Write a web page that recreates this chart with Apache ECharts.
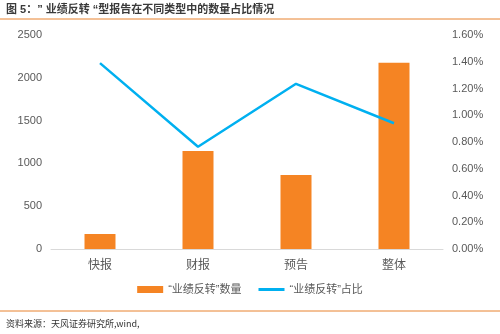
<!DOCTYPE html>
<html>
<head>
<meta charset="utf-8">
<script src="https://cdn.jsdelivr.net/npm/echarts@6/dist/echarts.min.js"></script>
<style>
html,body{margin:0;padding:0;background:#fff;}
#chart{width:500px;height:334px;}
</style>
</head>
<body>
<div id="chart"></div>
<script>
const categories = ['快报', '财报', '预告', '整体'];
const countValues = [175, 1145, 865, 2175];
const shareValues = [1.39, 0.765, 1.235, 0.94];
const leftTicks = [0, 500, 1000, 1500, 2000, 2500];
const rightTicks = [0, 0.2, 0.4, 0.6, 0.8, 1.0, 1.2, 1.4, 1.6];
const titleText = '图 5：” 业绩反转 “型报告在不同类型中的数量占比情况';
const sourceText = '资料来源：天风证券研究所,wind,';
const countName = '“业绩反转”数量';
const shareName = '“业绩反转”占比';

const font = '"Noto Sans CJK SC", "Liberation Sans", sans-serif';
// Latin font first so digits and quote marks stay narrow; CJK falls through
const numFont = '"Liberation Sans", "Noto Sans CJK SC", sans-serif';
// thin horizontal bar inside a 26x7 box for the line series legend icon
const lineIcon = 'path://M0,0L26,0L26,0.01L0,0.01Z M0,2L26,2L26,5L0,5Z M0,6.99L26,6.99L26,7L0,7Z';

const chart = echarts.init(document.getElementById('chart'));
chart.setOption({
  animation: false,
  textStyle: { fontFamily: font },
  graphic: [
    { type: 'text', left: 6, top: 4, style: { text: titleText, font: 'bold 11px ' + numFont, fill: '#3a3a3a' } },
    { type: 'line', shape: { x1: 0, y1: 19, x2: 500, y2: 19 }, style: { stroke: '#E8822F', lineWidth: 1 } },
    { type: 'line', shape: { x1: 0, y1: 311, x2: 500, y2: 311 }, style: { stroke: '#E8822F', lineWidth: 1 } },
    { type: 'text', left: 6, top: 319, style: { text: sourceText, font: '9px ' + font, fill: '#333' } }
  ],
  grid: { left: 51, right: 57, top: 35, bottom: 85 },
  legend: {
    bottom: 34,
    left: 'center',
    itemGap: 17,
    textStyle: { color: '#595959', fontSize: 11, fontFamily: numFont },
    data: [
      { name: countName, icon: 'rect' },
      { name: shareName, icon: lineIcon }
    ],
    itemWidth: 26,
    itemHeight: 7
  },
  xAxis: {
    type: 'category',
    data: categories,
    axisLine: { lineStyle: { color: '#D9D9D9' } },
    axisTick: { show: false },
    axisLabel: { color: '#595959', fontSize: 12, margin: 9 }
  },
  yAxis: [
    {
      type: 'value', min: leftTicks[0], max: leftTicks[leftTicks.length - 1], interval: 500,
      splitLine: { show: false },
      axisLine: { show: false }, axisTick: { show: false },
      axisLabel: { color: '#595959', fontSize: 11, margin: 9, fontFamily: numFont, formatter: v => String(v) }
    },
    {
      type: 'value', min: rightTicks[0], max: rightTicks[rightTicks.length - 1], interval: 0.2,
      splitLine: { show: false },
      axisLine: { show: false }, axisTick: { show: false },
      axisLabel: { color: '#595959', fontSize: 11, margin: 9, fontFamily: numFont, formatter: v => v.toFixed(2) + '%' }
    }
  ],
  series: [
    {
      name: countName, type: 'bar', data: countValues, barWidth: 31,
      itemStyle: { color: '#F58423' }
    },
    {
      name: shareName, type: 'line', yAxisIndex: 1, data: shareValues,
      symbol: 'none', lineStyle: { color: '#00B0F0', width: 2.5 },
      itemStyle: { color: '#00B0F0' }
    }
  ]
});
</script>
</body>
</html>
